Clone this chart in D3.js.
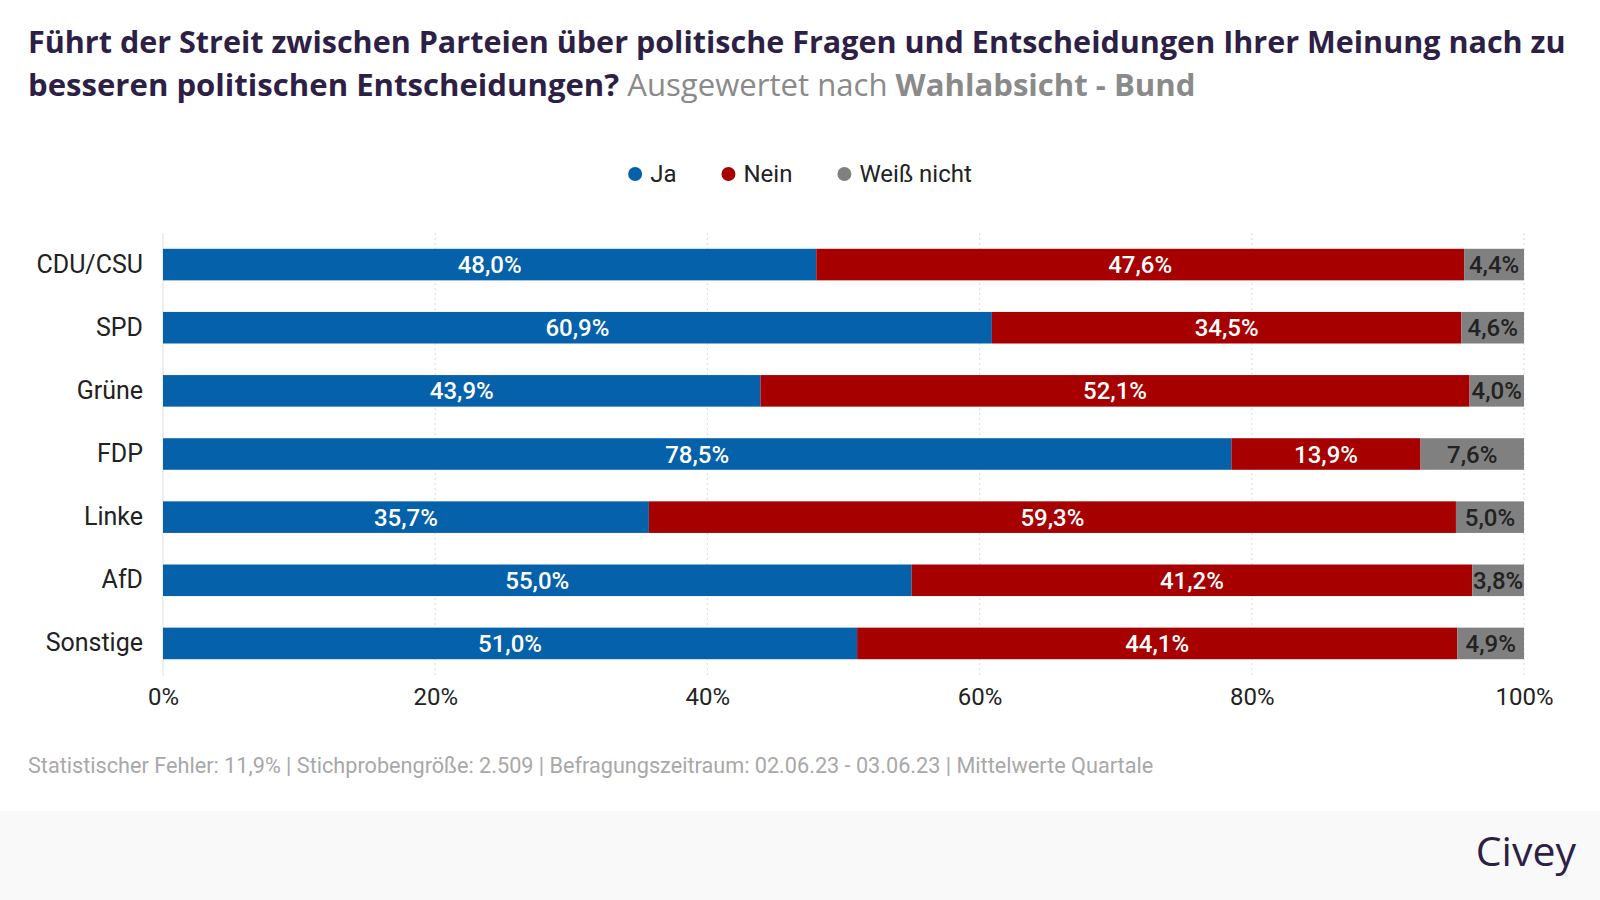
<!DOCTYPE html>
<html lang="de">
<head>
<meta charset="utf-8">
<title>Streit zwischen Parteien – Wahlabsicht</title>
<script src="https://d3js.org/d3.v7.min.js"></script>
<style>
  html, body { margin: 0; padding: 0; background: #fff; }
  svg { display: block; }
  .tick text { font-family: Roboto, sans-serif; }
</style>
</head>
<body>
<svg id="chart" width="1600" height="900"></svg>
<script>
// data
var parties = ["CDU/CSU", "SPD", "Grüne", "FDP", "Linke", "AfD", "Sonstige"];
var ja      = [48.0, 60.9, 43.9, 78.5, 35.7, 55.0, 51.0];
var nein    = [47.6, 34.5, 52.1, 13.9, 59.3, 41.2, 44.1];
var weiss   = [4.4, 4.6, 4.0, 7.6, 5.0, 3.8, 4.9];
var seriesNames = ["Ja", "Nein", "Weiß nicht"];
var xTicks = [0, 20, 40, 60, 80, 100];

var colors = ["#0461aa", "#a60000", "#808080"];
var labelColors = ["#ffffff", "#ffffff", "#222222"];

var svg = d3.select("#chart");
var W = 1600, H = 900;

// fit a text element's width by changing its font size
function fitWidth(sel, target) {
  var fs = parseFloat(sel.attr("font-size"));
  var w = sel.node().getComputedTextLength();
  sel.attr("font-size", (fs * target / w).toFixed(2));
}

// bottom band + logo
svg.append("rect").attr("x", 0).attr("y", 811).attr("width", W).attr("height", H - 811)
   .attr("fill", "#f9f9f9");
svg.append("text").attr("x", 1576).attr("y", 866).attr("text-anchor", "end")
   .attr("font-family", "'Open Sans', sans-serif").attr("font-weight", 400).attr("font-size", 41)
   .attr("fill", "#2d1f45").text("Civey");

// title
var t1 = svg.append("text").attr("x", 28).attr("y", 53)
   .attr("font-family", "'Open Sans', sans-serif").attr("font-weight", 700)
   .attr("font-size", 26).attr("fill", "#2d1f45")
   .text("Führt der Streit zwischen Parteien über politische Fragen und Entscheidungen Ihrer Meinung nach zu");
fitWidth(t1, 1538);
var fsTitle = t1.attr("font-size");
var t2 = svg.append("text").attr("x", 28).attr("y", 96)
   .attr("font-family", "'Open Sans', sans-serif").attr("font-size", fsTitle);
t2.append("tspan").attr("font-weight", 700).attr("fill", "#2d1f45").text("besseren politischen Entscheidungen?");
t2.append("tspan").attr("fill", "#8a8a8a").text(" Ausgewertet nach ");
t2.append("tspan").attr("font-weight", 700).attr("fill", "#8a8a8a").text("Wahlabsicht - Bund");
fitWidth(t2, 1167);

// legend
var legend = svg.append("g");
var lx = 0;
seriesNames.forEach(function (name, i) {
  var it = legend.append("g").attr("transform", "translate(" + lx + ",0)");
  it.append("circle").attr("cx", 7).attr("cy", 0).attr("r", 7).attr("fill", colors[i]);
  var tx = it.append("text").attr("x", 22).attr("y", 0).attr("dy", "0.35em")
    .attr("font-family", "Roboto, sans-serif").attr("font-size", 24).attr("fill", "#222")
    .text(name);
  lx += 22 + tx.node().getComputedTextLength() + 45;
});
lx -= 45;
legend.attr("transform", "translate(" + (800 - lx / 2) + ",174)");

// scales
var x = d3.scaleLinear().domain([0, 100]).range([163, 1524]);
var y = d3.scaleBand().domain(parties).range([233, 675]).paddingInner(0.5).paddingOuter(0.25);

// grid
svg.append("g").selectAll("line").data(xTicks).enter().append("line")
   .attr("x1", function (d) { return x(d); }).attr("x2", function (d) { return x(d); })
   .attr("y1", 233).attr("y2", 676)
   .attr("stroke", "#e2e2e2").attr("stroke-width", 1.2)
   .attr("stroke-dasharray", function (d) { return d === 0 ? null : "2,3"; });

// x axis labels
var xAxis = svg.append("g").attr("transform", "translate(0,676)")
   .call(d3.axisBottom(x).tickValues(xTicks).tickSize(0).tickPadding(12)
     .tickFormat(function (d) { return d + "%"; }));
xAxis.select(".domain").remove();
xAxis.selectAll("text").attr("font-size", 24).attr("fill", "#222");

// y axis labels
var yAxis = svg.append("g").attr("transform", "translate(143,0)")
   .call(d3.axisLeft(y).tickSize(0).tickPadding(0));
yAxis.select(".domain").remove();
yAxis.selectAll("text").attr("font-size", 25).attr("fill", "#222");

// stacked bars
var rows = parties.map(function (p, i) {
  return { party: p, vals: [ja[i], nein[i], weiss[i]] };
});
rows.forEach(function (r) {
  var start = 0;
  r.segs = r.vals.map(function (v, k) {
    var s = { party: r.party, k: k, x0: start, x1: start + v, v: v };
    start += v;
    return s;
  });
});
var segs = [].concat.apply([], rows.map(function (r) { return r.segs; }));

var bars = svg.append("g");
bars.selectAll("rect").data(segs).enter().append("rect")
   .attr("x", function (d) { return x(d.x0); })
   .attr("y", function (d) { return y(d.party); })
   .attr("width", function (d) { return x(d.x1) - x(d.x0); })
   .attr("height", y.bandwidth())
   .attr("fill", function (d) { return colors[d.k]; });

bars.selectAll("text").data(segs).enter().append("text")
   .attr("x", function (d) { return (x(d.x0) + x(d.x1)) / 2; })
   .attr("y", function (d) { return y(d.party) + y.bandwidth() / 2; })
   .attr("dy", "0.36em").attr("text-anchor", "middle")
   .attr("font-family", "Roboto, sans-serif").attr("font-weight", 500).attr("font-size", 24)
   .attr("fill", function (d) { return labelColors[d.k]; })
   .text(function (d) { return d.v.toFixed(1).replace(".", ",") + "%"; });

// footer
var foot = svg.append("text").attr("x", 28).attr("y", 773)
   .attr("font-family", "Roboto, sans-serif").attr("font-size", 20).attr("fill", "#a8a8a8")
   .text("Statistischer Fehler: 11,9% | Stichprobengröße: 2.509 | Befragungszeitraum: 02.06.23 - 03.06.23 | Mittelwerte Quartale");
fitWidth(foot, 1126);
</script>
</body>
</html>
